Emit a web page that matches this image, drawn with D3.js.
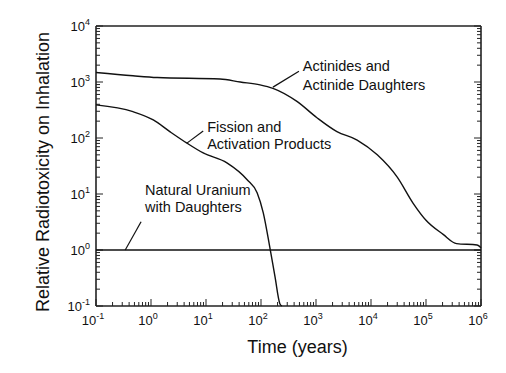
<!DOCTYPE html>
<html lang="en">
<head>
    <meta charset="UTF-8">
    <title>Relative Radiotoxicity on Inhalation</title>
    <script src="https://cdnjs.cloudflare.com/ajax/libs/d3/7.8.5/d3.min.js"></script>
    <style>
        body {
            margin: 0;
            padding: 0;
            background-color: #fff;
            font-family: "Liberation Sans", Arial, sans-serif;
        }
        .curve {
            fill: none;
            stroke: #111;
            stroke-width: 1.4px;
        }
        .frame line {
            stroke: #222;
        }
        .tick-label {
            font-size: 13px;
            fill: #111;
        }
        .note {
            font-size: 14.5px;
            fill: #111;
        }
        .title {
            font-size: 18px;
            fill: #111;
        }
    </style>
</head>
<body>
    <div id="chart"></div>
    <script>
        // time in years, relative radiotoxicity
        const actinidesYears = [0.1, 0.47, 1.3, 18, 42, 96, 165, 450, 1040, 2400, 5600, 13000, 30000, 58000, 100000, 205000, 360000, 850000, 1000000];
        const actinidesValues = [1480, 1290, 1200, 1130, 1000, 890, 770, 450, 230, 130, 92, 50, 20, 6.9, 3.4, 1.9, 1.3, 1.23, 1.1];

        const fissionYears = [0.1, 0.47, 1.1, 2.2, 4.5, 8.9, 24, 56, 85, 110, 145, 180, 220, 240];
        const fissionValues = [390, 295, 210, 130, 81, 54, 36, 18, 10.5, 4.6, 1.1, 0.33, 0.11, 0.1];

        const uraniumYears = [0.1, 1000000];
        const uraniumValues = [1, 1];

        const xDecades = [-1, 0, 1, 2, 3, 4, 5, 6];
        const yDecades = [-1, 0, 1, 2, 3, 4];

        // annotations: text lines at [years, value], leader from [years, value] to [years, value]
        const notes = [
            { lines: ["Actinides and", "Actinide Daughters"], at: [575, 1580], dy: 19, leader: [[165, 810], [490, 1560]] },
            { lines: ["Fission and", "Activation Products"], at: [10.5, 129], dy: 17, leader: [[4.5, 81], [8.9, 133]] },
            { lines: ["Natural Uranium", "with Daughters"], at: [0.78, 9.6], dy: 17, leader: [[0.34, 1.0], [0.66, 3.2]] }
        ];

        const W = 506, H = 373;
        const margin = { top: 26, right: 25, bottom: 67, left: 96 };

        const svg = d3.select("#chart").append("svg")
            .attr("width", W)
            .attr("height", H);

        const x = d3.scaleLog().domain([0.1, 1e6]).range([margin.left, W - margin.right]);
        const y = d3.scaleLog().domain([0.1, 1e4]).range([H - margin.bottom, margin.top]);

        const [x0, x1] = x.range();
        const [y0, y1] = y.range();

        // frame
        const frame = svg.append("g").attr("class", "frame");
        frame.append("line").attr("x1", x0).attr("x2", x1).attr("y1", y0).attr("y2", y0).attr("stroke-width", 1.6);
        frame.append("line").attr("x1", x0).attr("x2", x1).attr("y1", y1).attr("y2", y1).attr("stroke-width", 1.6);
        frame.append("line").attr("x1", x0).attr("x2", x0).attr("y1", y0).attr("y2", y1).attr("stroke-width", 1.6);
        frame.append("line").attr("x1", x1).attr("x2", x1).attr("y1", y0).attr("y2", y1).attr("stroke-width", 1.6);

        // minor + major ticks, all pointing inward
        function tickValues(decades) {
            const out = [];
            decades.forEach((d, i) => {
                out.push({ v: Math.pow(10, d), major: true });
                if (i < decades.length - 1) {
                    for (let m = 2; m <= 9; m++) out.push({ v: m * Math.pow(10, d), major: false });
                }
            });
            return out;
        }

        const xt = tickValues(xDecades);
        const yt = tickValues(yDecades);

        frame.selectAll(".xtick").data(xt).enter().append("line")
            .attr("x1", d => x(d.v)).attr("x2", d => x(d.v))
            .attr("y1", y0).attr("y2", d => y0 - (d.major ? 7 : 4))
            .attr("stroke-width", 1);

        frame.selectAll(".ytick-l").data(yt).enter().append("line")
            .attr("x1", x0).attr("x2", d => x0 + (d.major ? 7 : 4))
            .attr("y1", d => y(d.v)).attr("y2", d => y(d.v))
            .attr("stroke-width", 1);

        frame.selectAll(".ytick-r").data(yt).enter().append("line")
            .attr("x1", x1).attr("x2", d => x1 - (d.major ? 7 : 4))
            .attr("y1", d => y(d.v)).attr("y2", d => y(d.v))
            .attr("stroke-width", 1);

        // tick labels as 10 with superscript exponent
        function powLabel(sel, exp) {
            sel.append("tspan").text("10");
            sel.append("tspan").attr("dy", -6).style("font-size", "9px").text(exp);
        }

        xDecades.forEach(d => {
            const t = svg.append("text").attr("class", "tick-label")
                .attr("x", x(Math.pow(10, d)) - 3)
                .attr("y", y0 + 19)
                .attr("text-anchor", "middle");
            powLabel(t, d);
        });

        yDecades.forEach(d => {
            const t = svg.append("text").attr("class", "tick-label")
                .attr("x", x0 - 6)
                .attr("y", y(Math.pow(10, d)) + 5)
                .attr("text-anchor", "end");
            powLabel(t, d);
        });

        // curves
        const line = d3.line()
            .x(d => x(d[0]))
            .y(d => y(d[1]))
            .curve(d3.curveMonotoneX);

        const series = [
            d3.zip(actinidesYears, actinidesValues),
            d3.zip(fissionYears, fissionValues),
            d3.zip(uraniumYears, uraniumValues)
        ];

        svg.selectAll(".curve").data(series).enter().append("path")
            .attr("class", "curve")
            .attr("d", line);

        // annotations
        notes.forEach(n => {
            svg.append("line")
                .attr("x1", x(n.leader[0][0])).attr("y1", y(n.leader[0][1]))
                .attr("x2", x(n.leader[1][0])).attr("y2", y(n.leader[1][1]))
                .attr("stroke", "#111").attr("stroke-width", 1.2);
            const t = svg.append("text").attr("class", "note")
                .attr("x", x(n.at[0])).attr("y", y(n.at[1]));
            n.lines.forEach((l, i) => {
                t.append("tspan").attr("x", x(n.at[0])).attr("dy", i ? n.dy : 0).text(l);
            });
        });

        // axis titles
        svg.append("text").attr("class", "title")
            .attr("x", (x0 + x1) / 2 + 9)
            .attr("y", 353)
            .attr("text-anchor", "middle")
            .text("Time (years)");

        svg.append("text").attr("class", "title")
            .attr("transform", `translate(49,${(y0 + y1) / 2 + 6}) rotate(-90)`)
            .attr("text-anchor", "middle")
            .text("Relative Radiotoxicity on Inhalation");
    </script>
</body>
</html>
